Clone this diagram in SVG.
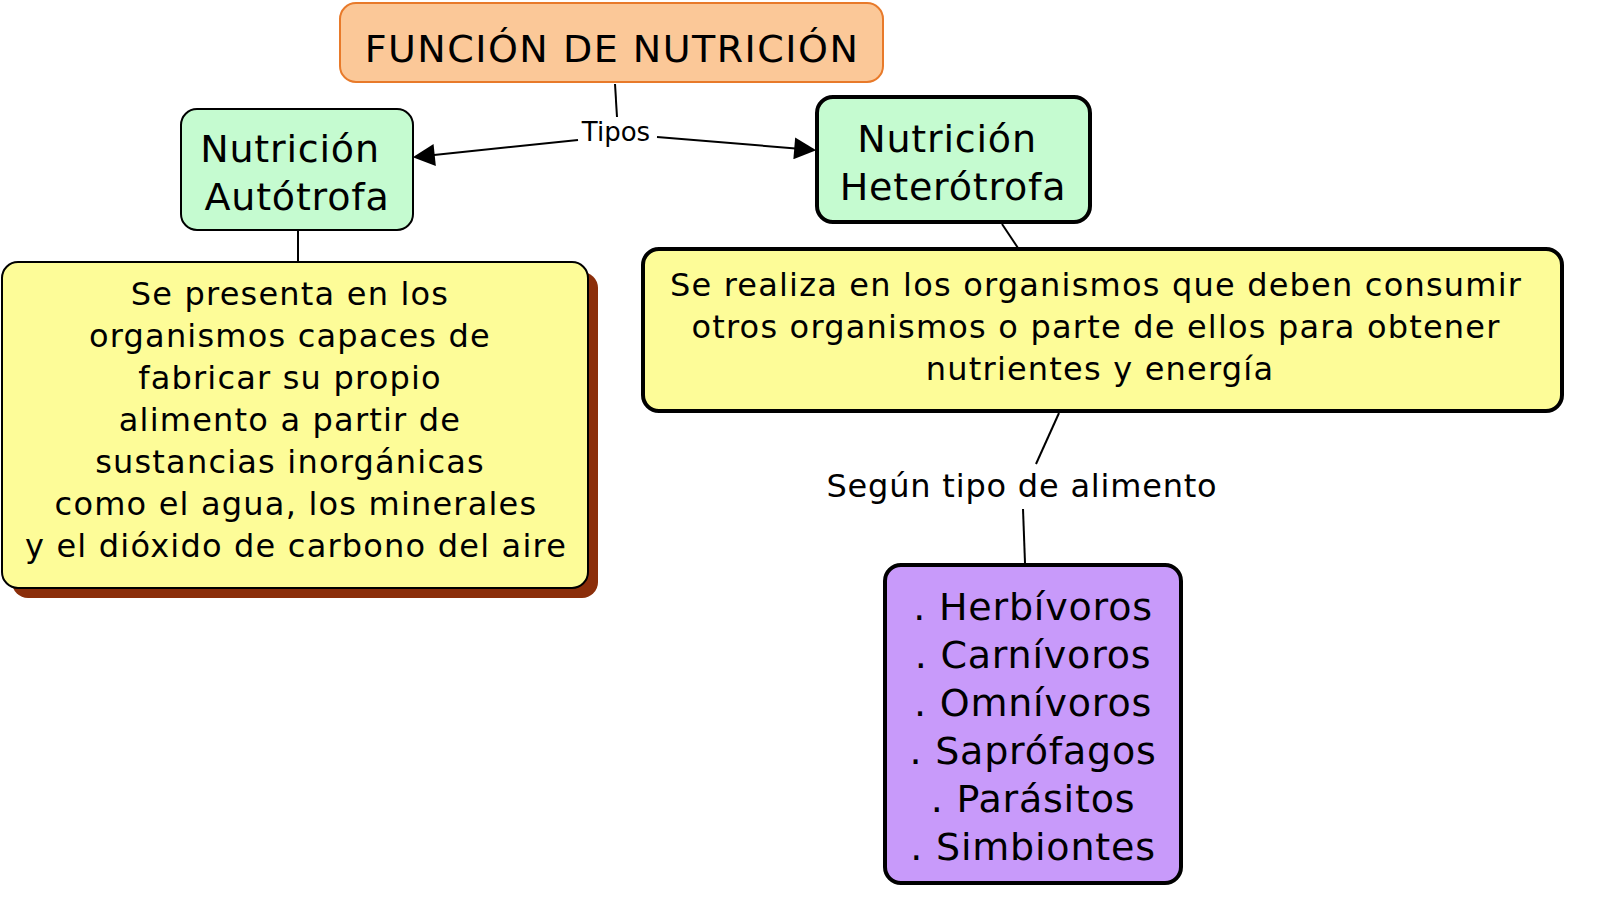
<svg xmlns="http://www.w3.org/2000/svg" width="1600" height="906" viewBox="0 0 1600 906">
<style>
text{font-family:"DejaVu Sans",Verdana,sans-serif;fill:#000;text-anchor:middle}
.c{stroke:#000;stroke-width:2;fill:none}
.d{font-size:32px;letter-spacing:1.2px}
.b{font-size:38px;letter-spacing:0.8px}
</style>
<defs>
<marker id="b" viewBox="0 0 10 10" refX="9" refY="5" markerWidth="26" markerHeight="22" markerUnits="userSpaceOnUse" orient="auto"><path d="M0,0L10,5L0,10z" fill="#000"/></marker></defs>
<rect width="1600" height="906" fill="#fff"/>
<g id="connectors">
<line class="c" x1="615" y1="84" x2="617" y2="117"/>
<line class="c" x1="578" y1="140" x2="415" y2="157" marker-end="url(#b)"/>
<line class="c" x1="657" y1="137" x2="814" y2="150" marker-end="url(#b)"/>
<line class="c" x1="298" y1="230" x2="298" y2="262"/>
<line class="c" x1="1002" y1="224" x2="1018" y2="248"/>
<line class="c" x1="1059" y1="413" x2="1036" y2="464"/>
<line class="c" x1="1023" y1="509" x2="1025" y2="563"/>
<text x="616" y="141" font-size="26">Tipos</text>
<text x="1022" y="497" font-size="32" letter-spacing="0.8">Según tipo de alimento</text>
</g>
<g id="title"><rect x="340" y="3" width="543" height="79" rx="16" fill="#fbc898" stroke="#e87a2a" stroke-width="2"/>
<text x="612" y="62" font-size="38" letter-spacing="1.5">FUNCIÓN DE NUTRICIÓN</text></g>
<g id="auto"><rect x="181" y="109" width="232" height="121" rx="16" fill="#c5fbd0" stroke="#000" stroke-width="2"/>
<text class="b" x="290" y="162">Nutrición</text><text class="b" x="297" y="210">Autótrofa</text></g>
<g id="hetero"><rect x="817" y="97" width="273" height="125" rx="16" fill="#c5fbd0" stroke="#000" stroke-width="4"/>
<text class="b" x="947" y="152">Nutrición</text><text class="b" x="953" y="200">Heterótrofa</text></g>
<g id="autodesc"><rect x="12" y="272" width="586" height="326" rx="16" fill="#8b2e0a"/>
<rect x="2" y="262" width="586" height="326" rx="16" fill="#fdfc98" stroke="#000" stroke-width="2"/>
<g class="d"><text x="290" y="305">Se presenta en los</text><text x="290" y="347">organismos capaces de</text><text x="290" y="389">fabricar su propio</text><text x="290" y="431">alimento a partir de</text><text x="290" y="473">sustancias inorgánicas</text><text x="296" y="515">como el agua, los minerales</text><text x="296" y="557">y el dióxido de carbono del aire</text></g></g>
<g id="heterodesc"><rect x="643" y="249" width="919" height="162" rx="16" fill="#fdfc98" stroke="#000" stroke-width="4"/>
<g class="d"><text x="1096" y="296">Se realiza en los organismos que deben consumir</text><text x="1096" y="338">otros organismos o parte de ellos para obtener</text><text x="1100" y="380">nutrientes y energía</text></g></g>
<g id="tipos"><rect x="885" y="565" width="296" height="318" rx="16" fill="#c89afa" stroke="#000" stroke-width="4"/>
<g class="b"><text x="1033" y="620">. Herbívoros</text><text x="1033" y="668">. Carnívoros</text><text x="1033" y="716">. Omnívoros</text><text x="1033" y="764">. Saprófagos</text><text x="1033" y="812">. Parásitos</text><text x="1033" y="860">. Simbiontes</text></g></g>
</svg>
